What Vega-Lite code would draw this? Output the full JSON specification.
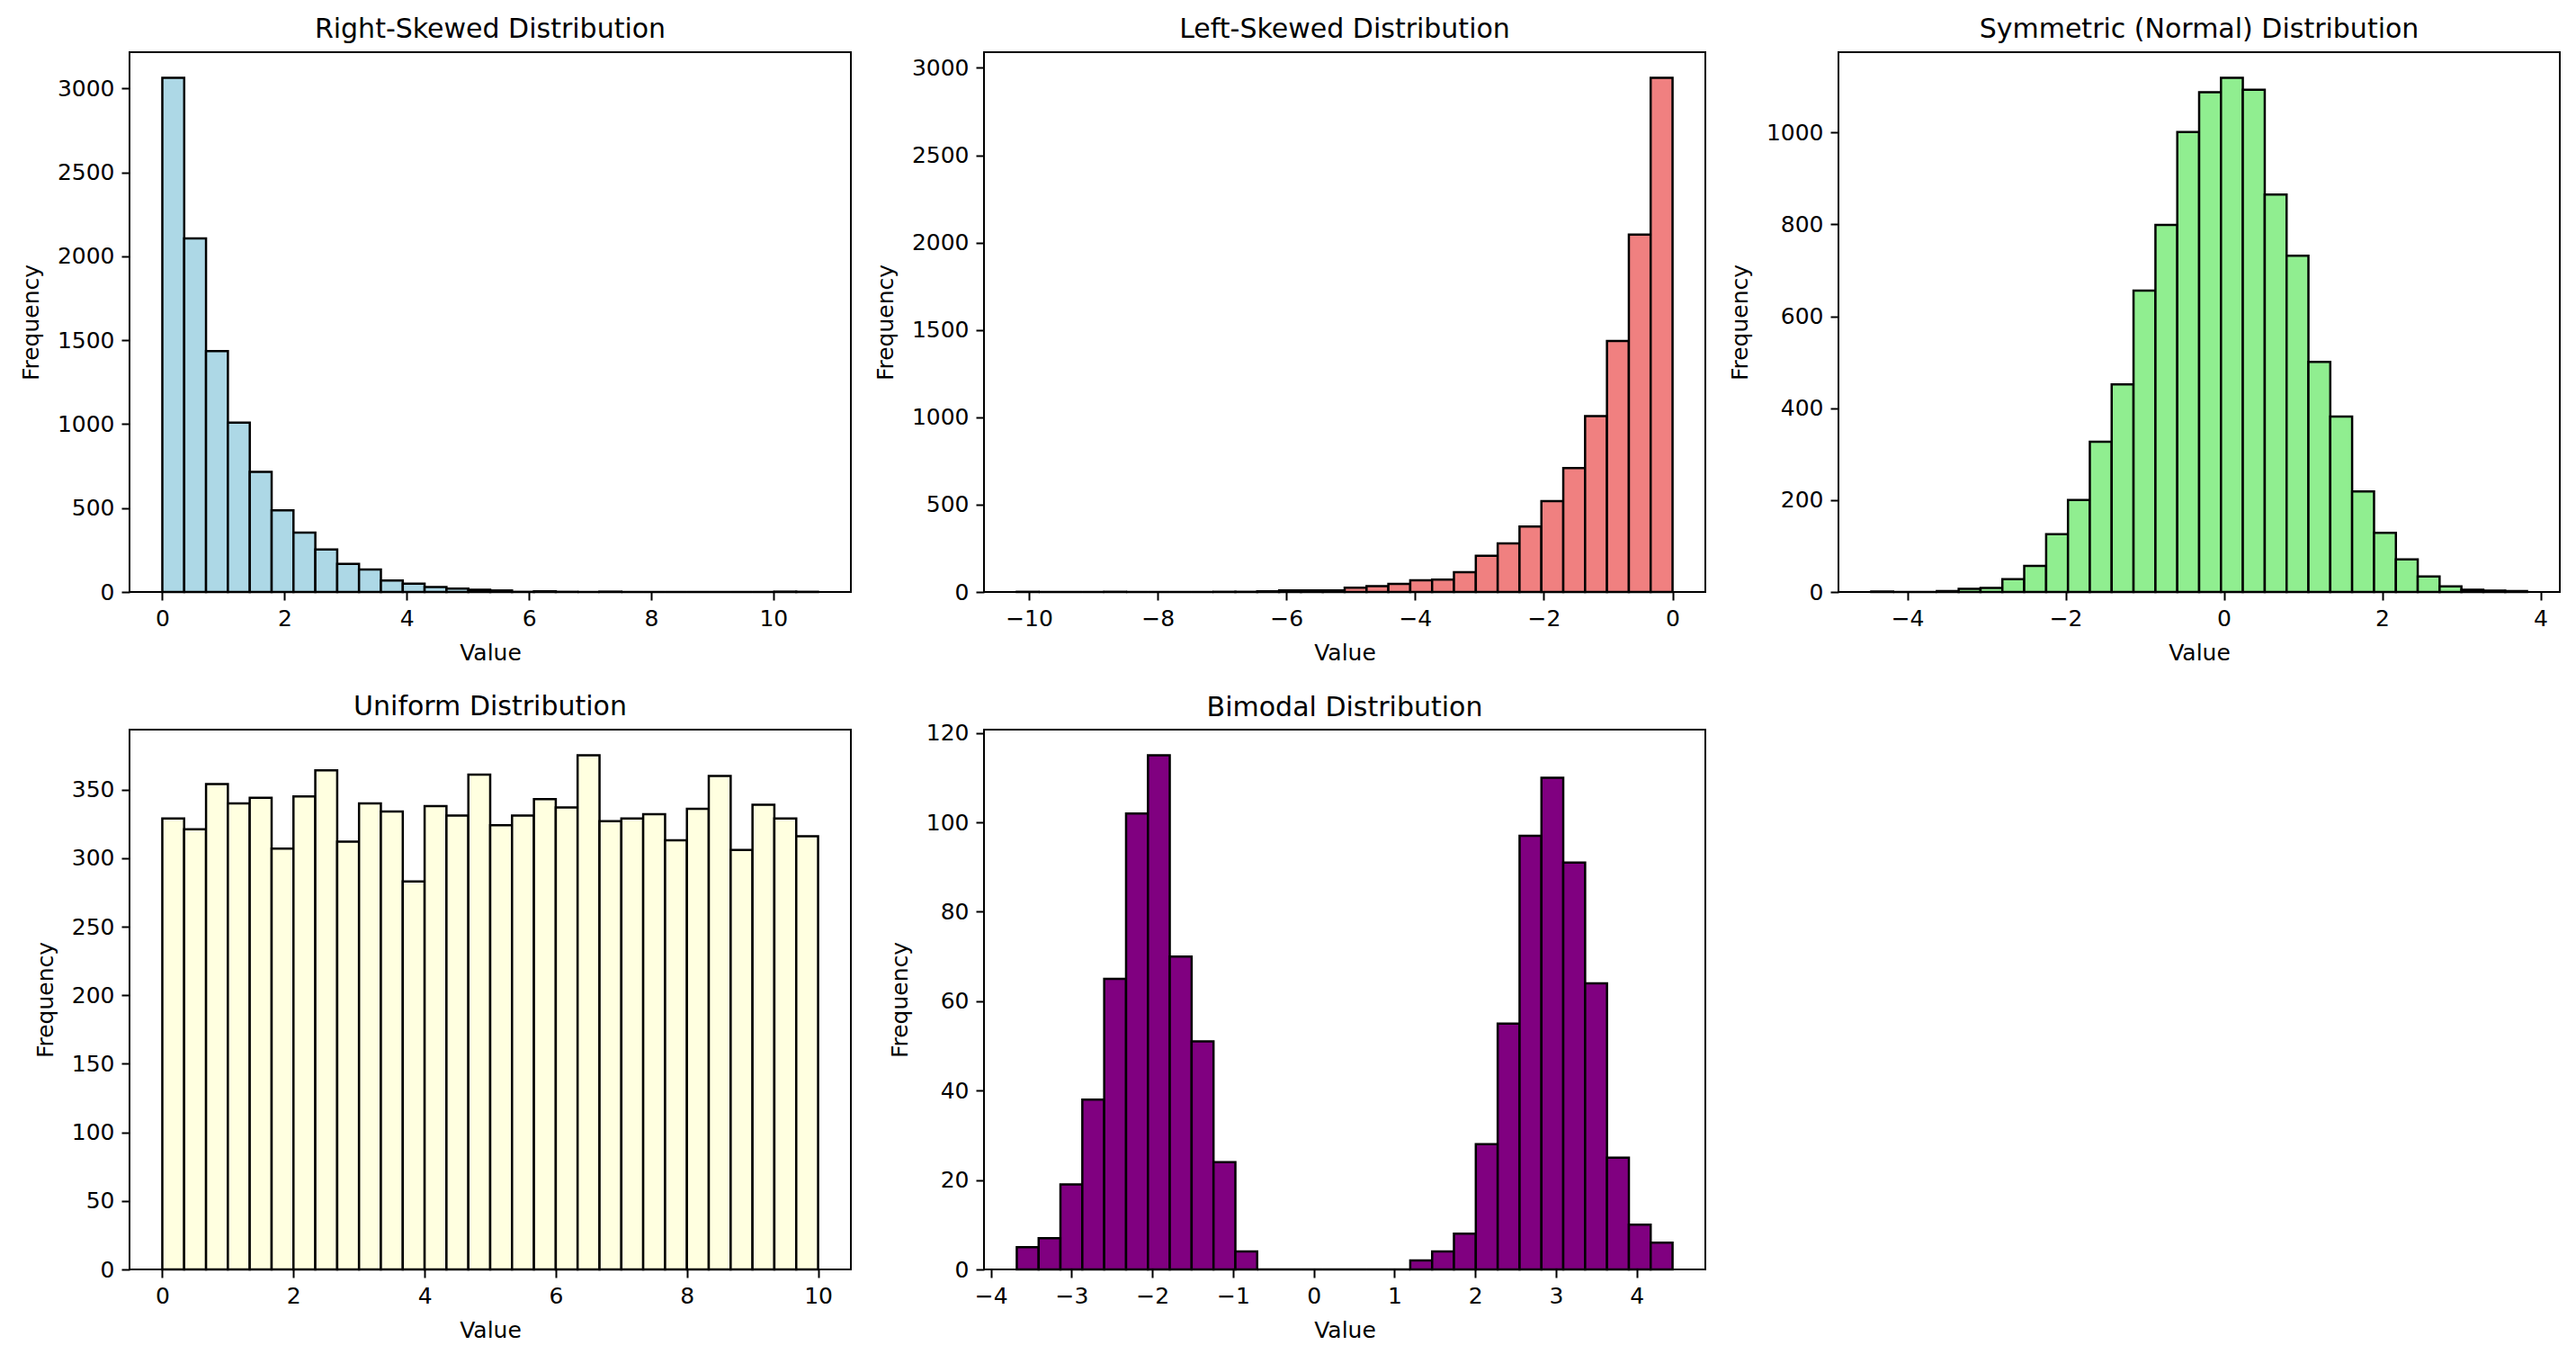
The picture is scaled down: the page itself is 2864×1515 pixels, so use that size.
{
  "$schema": "https://vega.github.io/schema/vega-lite/v6.json",
  "background": "white",
  "padding": {"left": 21, "top": 17, "right": 10, "bottom": 10},
  "autosize": {"type": "pad"},
  "config": {
    "font": "DejaVu Sans",
    "view": {"stroke": "black", "strokeWidth": 2},
    "title": {"font": "DejaVu Sans", "fontSize": 30, "fontWeight": "normal", "color": "black", "anchor": "middle", "offset": 10, "frame": "group"},
    "axis": {"labelFont": "DejaVu Sans", "labelFontSize": 25, "labelColor": "black", "titleFont": "DejaVu Sans", "titleFontSize": 25, "titleFontWeight": "normal", "titleColor": "black", "tickColor": "black", "tickWidth": 2, "tickSize": 9, "labelPadding": 8, "domain": false, "grid": false, "labelFlush": false, "labelOverlap": false, "format": "d"},
    "axisX": {"titlePadding": 13},
    "axisY": {"titlePadding": 16},
    "bar": {"stroke": "black", "strokeWidth": 2.5}
  },
  "datasets": {
    "right": [
      {"start": 0, "end": 0.358, "count": 3064},
      {"start": 0.358, "end": 0.715, "count": 2107},
      {"start": 0.715, "end": 1.073, "count": 1436},
      {"start": 1.073, "end": 1.431, "count": 1010},
      {"start": 1.431, "end": 1.789, "count": 716},
      {"start": 1.789, "end": 2.146, "count": 486},
      {"start": 2.146, "end": 2.504, "count": 354},
      {"start": 2.504, "end": 2.862, "count": 254},
      {"start": 2.862, "end": 3.219, "count": 168},
      {"start": 3.219, "end": 3.577, "count": 134},
      {"start": 3.577, "end": 3.935, "count": 68},
      {"start": 3.935, "end": 4.292, "count": 50},
      {"start": 4.292, "end": 4.65, "count": 29},
      {"start": 4.65, "end": 5.008, "count": 20},
      {"start": 5.008, "end": 5.366, "count": 14},
      {"start": 5.366, "end": 5.723, "count": 9},
      {"start": 5.723, "end": 6.081, "count": 1},
      {"start": 6.081, "end": 6.439, "count": 4},
      {"start": 6.439, "end": 6.796, "count": 1},
      {"start": 6.796, "end": 7.154, "count": 0},
      {"start": 7.154, "end": 7.512, "count": 2},
      {"start": 7.512, "end": 7.869, "count": 0},
      {"start": 7.869, "end": 8.227, "count": 0},
      {"start": 8.227, "end": 8.585, "count": 0},
      {"start": 8.585, "end": 8.943, "count": 0},
      {"start": 8.943, "end": 9.3, "count": 0},
      {"start": 9.3, "end": 9.658, "count": 0},
      {"start": 9.658, "end": 10.016, "count": 0},
      {"start": 10.016, "end": 10.373, "count": 2},
      {"start": 10.373, "end": 10.731, "count": 1}
    ],
    "left": [
      {"start": -10.19, "end": -9.85, "count": 1},
      {"start": -9.85, "end": -9.511, "count": 0},
      {"start": -9.511, "end": -9.171, "count": 0},
      {"start": -9.171, "end": -8.831, "count": 0},
      {"start": -8.831, "end": -8.492, "count": 1},
      {"start": -8.492, "end": -8.152, "count": 0},
      {"start": -8.152, "end": -7.812, "count": 0},
      {"start": -7.812, "end": -7.473, "count": 0},
      {"start": -7.473, "end": -7.133, "count": 0},
      {"start": -7.133, "end": -6.793, "count": 1},
      {"start": -6.793, "end": -6.454, "count": 1},
      {"start": -6.454, "end": -6.114, "count": 4},
      {"start": -6.114, "end": -5.774, "count": 9},
      {"start": -5.774, "end": -5.435, "count": 9},
      {"start": -5.435, "end": -5.095, "count": 9},
      {"start": -5.095, "end": -4.755, "count": 24},
      {"start": -4.755, "end": -4.416, "count": 33},
      {"start": -4.416, "end": -4.076, "count": 46},
      {"start": -4.076, "end": -3.736, "count": 67},
      {"start": -3.736, "end": -3.397, "count": 71},
      {"start": -3.397, "end": -3.057, "count": 113},
      {"start": -3.057, "end": -2.717, "count": 207},
      {"start": -2.717, "end": -2.378, "count": 278},
      {"start": -2.378, "end": -2.038, "count": 375},
      {"start": -2.038, "end": -1.698, "count": 520},
      {"start": -1.698, "end": -1.359, "count": 710},
      {"start": -1.359, "end": -1.019, "count": 1007},
      {"start": -1.019, "end": -0.679, "count": 1437},
      {"start": -0.679, "end": -0.34, "count": 2046},
      {"start": -0.34, "end": 0, "count": 2943}
    ],
    "normal": [
      {"start": -4.456, "end": -4.18, "count": 1},
      {"start": -4.18, "end": -3.904, "count": 0},
      {"start": -3.904, "end": -3.627, "count": 0},
      {"start": -3.627, "end": -3.351, "count": 2},
      {"start": -3.351, "end": -3.075, "count": 7},
      {"start": -3.075, "end": -2.799, "count": 9},
      {"start": -2.799, "end": -2.523, "count": 28},
      {"start": -2.523, "end": -2.246, "count": 57},
      {"start": -2.246, "end": -1.97, "count": 126},
      {"start": -1.97, "end": -1.694, "count": 200},
      {"start": -1.694, "end": -1.418, "count": 327},
      {"start": -1.418, "end": -1.142, "count": 452},
      {"start": -1.142, "end": -0.865, "count": 656},
      {"start": -0.865, "end": -0.589, "count": 799},
      {"start": -0.589, "end": -0.313, "count": 1001},
      {"start": -0.313, "end": -0.037, "count": 1088},
      {"start": -0.037, "end": 0.239, "count": 1119},
      {"start": 0.239, "end": 0.516, "count": 1093},
      {"start": 0.516, "end": 0.792, "count": 865},
      {"start": 0.792, "end": 1.068, "count": 732},
      {"start": 1.068, "end": 1.344, "count": 501},
      {"start": 1.344, "end": 1.62, "count": 382},
      {"start": 1.62, "end": 1.897, "count": 219},
      {"start": 1.897, "end": 2.173, "count": 129},
      {"start": 2.173, "end": 2.449, "count": 71},
      {"start": 2.449, "end": 2.725, "count": 34},
      {"start": 2.725, "end": 3.001, "count": 12},
      {"start": 3.001, "end": 3.278, "count": 5},
      {"start": 3.278, "end": 3.554, "count": 3},
      {"start": 3.554, "end": 3.83, "count": 2}
    ],
    "uniform": [
      {"start": 0, "end": 0.333, "count": 329},
      {"start": 0.333, "end": 0.667, "count": 321},
      {"start": 0.667, "end": 1.0, "count": 354},
      {"start": 1.0, "end": 1.333, "count": 340},
      {"start": 1.333, "end": 1.667, "count": 344},
      {"start": 1.667, "end": 2.0, "count": 307},
      {"start": 2.0, "end": 2.333, "count": 345},
      {"start": 2.333, "end": 2.667, "count": 364},
      {"start": 2.667, "end": 3.0, "count": 312},
      {"start": 3.0, "end": 3.333, "count": 340},
      {"start": 3.333, "end": 3.667, "count": 334},
      {"start": 3.667, "end": 4.0, "count": 283},
      {"start": 4.0, "end": 4.333, "count": 338},
      {"start": 4.333, "end": 4.667, "count": 331},
      {"start": 4.667, "end": 5.0, "count": 361},
      {"start": 5.0, "end": 5.333, "count": 324},
      {"start": 5.333, "end": 5.667, "count": 331},
      {"start": 5.667, "end": 6.0, "count": 343},
      {"start": 6.0, "end": 6.333, "count": 337},
      {"start": 6.333, "end": 6.667, "count": 375},
      {"start": 6.667, "end": 7.0, "count": 327},
      {"start": 7.0, "end": 7.333, "count": 329},
      {"start": 7.333, "end": 7.667, "count": 332},
      {"start": 7.667, "end": 8.0, "count": 313},
      {"start": 8.0, "end": 8.333, "count": 336},
      {"start": 8.333, "end": 8.667, "count": 360},
      {"start": 8.667, "end": 9.0, "count": 306},
      {"start": 9.0, "end": 9.333, "count": 339},
      {"start": 9.333, "end": 9.667, "count": 329},
      {"start": 9.667, "end": 10.0, "count": 316}
    ],
    "bimodal": [
      {"start": -3.679, "end": -3.408, "count": 5},
      {"start": -3.408, "end": -3.138, "count": 7},
      {"start": -3.138, "end": -2.867, "count": 19},
      {"start": -2.867, "end": -2.596, "count": 38},
      {"start": -2.596, "end": -2.325, "count": 65},
      {"start": -2.325, "end": -2.054, "count": 102},
      {"start": -2.054, "end": -1.784, "count": 115},
      {"start": -1.784, "end": -1.513, "count": 70},
      {"start": -1.513, "end": -1.242, "count": 51},
      {"start": -1.242, "end": -0.971, "count": 24},
      {"start": -0.971, "end": -0.701, "count": 4},
      {"start": -0.701, "end": -0.43, "count": 0},
      {"start": -0.43, "end": -0.159, "count": 0},
      {"start": -0.159, "end": 0.112, "count": 0},
      {"start": 0.112, "end": 0.383, "count": 0},
      {"start": 0.383, "end": 0.653, "count": 0},
      {"start": 0.653, "end": 0.924, "count": 0},
      {"start": 0.924, "end": 1.195, "count": 0},
      {"start": 1.195, "end": 1.466, "count": 2},
      {"start": 1.466, "end": 1.736, "count": 4},
      {"start": 1.736, "end": 2.007, "count": 8},
      {"start": 2.007, "end": 2.278, "count": 28},
      {"start": 2.278, "end": 2.549, "count": 55},
      {"start": 2.549, "end": 2.82, "count": 97},
      {"start": 2.82, "end": 3.09, "count": 110},
      {"start": 3.09, "end": 3.361, "count": 91},
      {"start": 3.361, "end": 3.632, "count": 64},
      {"start": 3.632, "end": 3.903, "count": 25},
      {"start": 3.903, "end": 4.173, "count": 10},
      {"start": 4.173, "end": 4.444, "count": 6}
    ]
  },
  "columns": 3,
  "bounds": "flush",
  "spacing": {"row": 153, "column": 148},
  "concat": [
    {
      "title": {"text": "Right-Skewed Distribution", "offset": 10},
      "width": 802, "height": 600,
      "data": {"name": "right"},
      "mark": {"type": "bar", "fill": "#ADD8E6"},
      "encoding": {
        "x": {"field": "start", "type": "quantitative", "scale": {"domain": [-0.537, 11.268], "nice": false, "zero": false}, "axis": {"title": "Value", "values": [0, 2, 4, 6, 8, 10]}},
        "x2": {"field": "end"},
        "y": {"field": "count", "type": "quantitative", "scale": {"domain": [0, 3217], "nice": false}, "axis": {"title": "Frequency", "values": [0, 500, 1000, 1500, 2000, 2500, 3000]}},
        "y2": {"datum": 0}
      }
    },
    {
      "title": {"text": "Left-Skewed Distribution", "offset": 10},
      "width": 802, "height": 600,
      "data": {"name": "left"},
      "mark": {"type": "bar", "fill": "#F08080"},
      "encoding": {
        "x": {"field": "start", "type": "quantitative", "scale": {"domain": [-10.6995, 0.5095], "nice": false, "zero": false}, "axis": {"title": "Value", "values": [-10, -8, -6, -4, -2, 0]}},
        "x2": {"field": "end"},
        "y": {"field": "count", "type": "quantitative", "scale": {"domain": [0, 3090], "nice": false}, "axis": {"title": "Frequency", "values": [0, 500, 1000, 1500, 2000, 2500, 3000]}},
        "y2": {"datum": 0}
      }
    },
    {
      "title": {"text": "Symmetric (Normal) Distribution", "offset": 10},
      "width": 802, "height": 600,
      "data": {"name": "normal"},
      "mark": {"type": "bar", "fill": "#90EE90"},
      "encoding": {
        "x": {"field": "start", "type": "quantitative", "scale": {"domain": [-4.87, 4.244], "nice": false, "zero": false}, "axis": {"title": "Value", "values": [-4, -2, 0, 2, 4]}},
        "x2": {"field": "end"},
        "y": {"field": "count", "type": "quantitative", "scale": {"domain": [0, 1175], "nice": false}, "axis": {"title": "Frequency", "values": [0, 200, 400, 600, 800, 1000]}},
        "y2": {"datum": 0}
      }
    },
    {
      "title": {"text": "Uniform Distribution", "offset": 10},
      "width": 802, "height": 600,
      "data": {"name": "uniform"},
      "mark": {"type": "bar", "fill": "#FFFFE0"},
      "encoding": {
        "x": {"field": "start", "type": "quantitative", "scale": {"domain": [-0.5, 10.5], "nice": false, "zero": false}, "axis": {"title": "Value", "values": [0, 2, 4, 6, 8, 10]}},
        "x2": {"field": "end"},
        "y": {"field": "count", "type": "quantitative", "scale": {"domain": [0, 393.75], "nice": false}, "axis": {"title": "Frequency", "values": [0, 50, 100, 150, 200, 250, 300, 350]}},
        "y2": {"datum": 0}
      }
    },
    {
      "title": {"text": "Bimodal Distribution", "offset": 1},
      "width": 802, "height": 600,
      "data": {"name": "bimodal"},
      "mark": {"type": "bar", "fill": "#800080"},
      "encoding": {
        "x": {"field": "start", "type": "quantitative", "scale": {"domain": [-4.085, 4.85], "nice": false, "zero": false}, "axis": {"title": "Value", "values": [-4, -3, -2, -1, 0, 1, 2, 3, 4]}},
        "x2": {"field": "end"},
        "y": {"field": "count", "type": "quantitative", "scale": {"domain": [0, 120.75], "nice": false}, "axis": {"title": "Frequency", "values": [0, 20, 40, 60, 80, 100, 120]}},
        "y2": {"datum": 0}
      }
    }
  ]
}
